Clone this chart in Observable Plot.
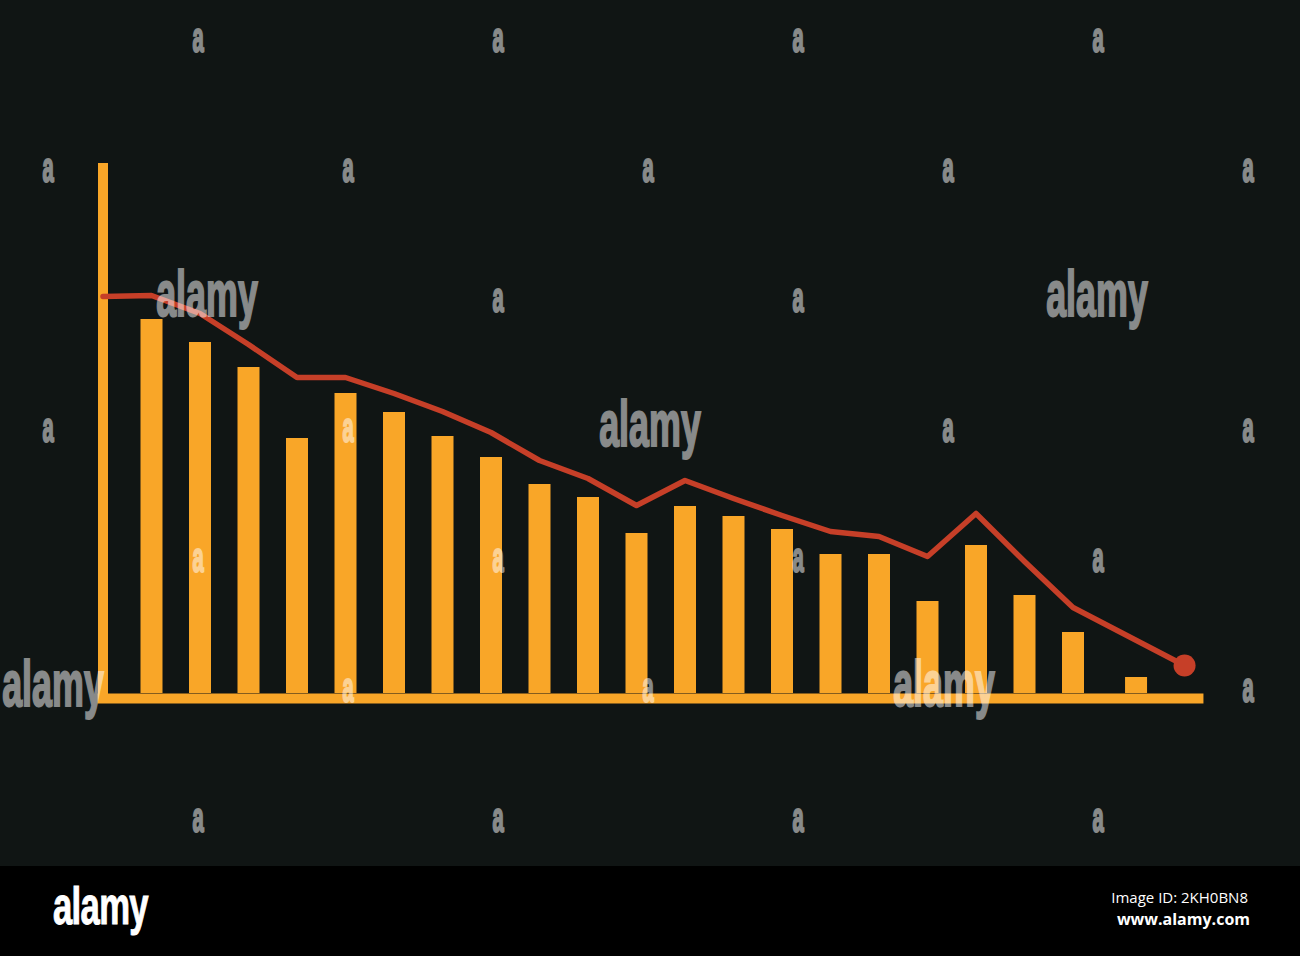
<!DOCTYPE html>
<html>
<head>
<meta charset="utf-8">
<script src="https://cdn.jsdelivr.net/npm/d3@7"></script>
<script src="https://cdn.jsdelivr.net/npm/@observablehq/plot@0.6"></script>
<style>
  html, body { margin: 0; padding: 0; background: #000; }
  #wrap { position: relative; width: 1300px; height: 956px; overflow: hidden; }
  #chart { position: absolute; left: 0; top: 0; width: 1300px; height: 866px; background: #101514; }
  #strip { position: absolute; left: 0; top: 866px; width: 1300px; height: 90px; background: #000; }
  .wm { position: absolute; color: #fff; -webkit-text-stroke: 2px #fff; opacity: 0.5; font-family: "Liberation Sans", Arial, sans-serif; font-weight: bold; white-space: nowrap; pointer-events: none; }
  .wm.big { font-size: 64px; transform: translate(-50%, -50%) scaleX(0.56); letter-spacing: 0px; }
  .wm.small { font-size: 42px; transform: translate(-50%, -50%) scaleX(0.48); }
  #logo { position: absolute; left: 53px; top: 877px; color: #fff; -webkit-text-stroke: 1px #fff; font-family: "Liberation Sans", Arial, sans-serif; font-weight: bold; font-size: 51px; letter-spacing: -1px; transform: scaleX(0.68); transform-origin: left top; }
  #imgid { position: absolute; right: 52px; top: 887px; color: #fff; font-family: "Open Sans", "Noto Sans", sans-serif; font-size: 15px; }
  #www { position: absolute; right: 50px; top: 908px; color: #fff; font-family: "Open Sans", "Noto Sans", sans-serif; font-weight: bold; font-size: 16px; }
</style>
</head>
<body>
<div id="wrap">
  <div id="chart"></div>
  <div id="strip"></div>
  <div id="logo">alamy</div>
  <div id="imgid">Image ID: 2KH0BN8</div>
  <div id="www">www.alamy.com</div>
</div>
<script>
// Bar positions (slot index) and heights
const barX = [0, 1, 2, 3, 4, 5, 6, 7, 8, 9, 10, 11, 12, 13, 14, 15, 16, 17, 18, 19, 20.3];
const barValues = [374, 351, 326, 255, 300, 281, 257, 236, 209, 196, 160, 187, 177, 164, 139, 139, 92, 148, 98, 61, 16];

// Trend line positions and values
const lineX = [-1, 0, 1, 2, 3, 4, 5, 6, 7, 8, 9, 10, 11, 12, 13, 14, 15, 16, 17, 18, 19, 21.3];
const lineValues = [397, 398, 380, 349, 316, 316, 300, 282, 261, 233, 215, 188, 213, 195, 178, 162, 157, 137, 180, 132, 86, 28];

// Axis extents (in data units)
const yAxisExtent = [-10, 530];
const xAxisExtent = [-1.1, 21.7];

const orange = "#F9A628";
const red = "#C63F28";

const bars = barX.map((x, i) => ({x, value: barValues[i]}));
const line = lineX.map((x, i) => ({x, value: lineValues[i]}));

const chart = Plot.plot({
  width: 1300,
  height: 866,
  margin: 0,
  x: {type: "linear", domain: [0, 20], range: [151, 1121], axis: null},
  y: {type: "linear", domain: [0, 530], range: [693, 163], axis: null},
  style: {background: "#101514"},
  marks: [
    Plot.ruleX(bars, {x: "x", y1: 0, y2: "value", stroke: orange, strokeWidth: 22}),
    Plot.ruleX([-1], {y1: yAxisExtent[0], y2: yAxisExtent[1], stroke: orange, strokeWidth: 10}),
    Plot.ruleY([0], {x1: xAxisExtent[0], x2: xAxisExtent[1], dy: 5, stroke: orange, strokeWidth: 10}),
    Plot.line(line, {x: "x", y: "value", stroke: red, strokeWidth: 5.5, strokeLinejoin: "round"}),
    Plot.dot([line[line.length - 1]], {x: "x", y: "value", r: 11, fill: red})
  ]
});
document.getElementById("chart").appendChild(chart);

// Watermark overlay
const wrap = document.getElementById("wrap");
const rows = [40, 170, 300, 430, 560, 690, 820];
const bigMarks = [[207, 300], [1097, 300], [650, 430], [53, 690], [944, 690]];
rows.forEach((y, r) => {
  const start = r % 2 === 0 ? 198 : 48;
  for (let x = start; x < 1300; x += 300) {
    const covered = bigMarks.some(([bx, by]) => by === y && Math.abs(bx - x) < 60);
    if (covered) continue;
    const d = document.createElement("div");
    d.className = "wm small";
    d.style.left = x + "px";
    d.style.top = (y - 2) + "px";
    d.textContent = "a";
    wrap.appendChild(d);
  }
});
bigMarks.forEach(([x, y]) => {
  const d = document.createElement("div");
  d.className = "wm big";
  d.style.left = x + "px";
  d.style.top = (y - 6) + "px";
  d.textContent = "alamy";
  wrap.appendChild(d);
});
</script>
</body>
</html>
